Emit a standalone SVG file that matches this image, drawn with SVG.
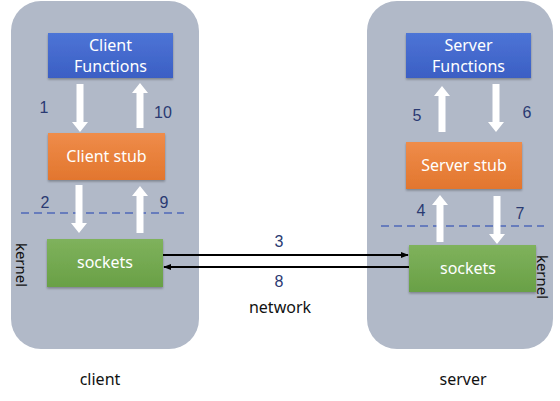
<svg xmlns="http://www.w3.org/2000/svg" width="560" height="401" viewBox="0 0 560 401">
<style>
.panel{fill:#b1b9c8}
.lbl{font-family:"Liberation Sans","Noto Sans",sans-serif;font-size:16px;fill:#2a3a72;text-anchor:middle}
.box{font-family:"Noto Sans","Liberation Sans",sans-serif;font-size:16px;fill:#ffffff;text-anchor:middle}
.cap{font-family:"Noto Sans","Liberation Sans",sans-serif;font-size:16px;fill:#111111;text-anchor:middle}
.kern{font-family:"Noto Sans","Liberation Sans",sans-serif;font-size:15px;fill:#111111;text-anchor:middle}
.warr{fill:#ffffff}
.dash{stroke:#4f68b8;stroke-width:1.3;stroke-dasharray:8,5;fill:none}
.net{stroke:#000000;stroke-width:2;fill:none}
</style>
<defs>
<linearGradient id="gb" x1="0" y1="0" x2="0" y2="1"><stop offset="0" stop-color="#4d74d6"/><stop offset="1" stop-color="#3b5fc4"/></linearGradient>
<linearGradient id="go" x1="0" y1="0" x2="0" y2="1"><stop offset="0" stop-color="#ef8c4a"/><stop offset="1" stop-color="#e2762e"/></linearGradient>
<linearGradient id="gg" x1="0" y1="0" x2="0" y2="1"><stop offset="0" stop-color="#7fb25c"/><stop offset="1" stop-color="#69a046"/></linearGradient>
<filter id="sh" x="-10%" y="-10%" width="120%" height="130%"><feDropShadow dx="0" dy="1.5" stdDeviation="1" flood-color="#000" flood-opacity="0.3"/></filter>
<marker id="ah" viewBox="0 0 10 10" refX="9" refY="5" markerWidth="8" markerHeight="8" orient="auto" markerUnits="userSpaceOnUse"><path d="M0,1 L10,5 L0,9 z" fill="#000"/></marker>
</defs>

<g id="client-panel">
<rect class="panel" x="11" y="1" width="188" height="348" rx="30"/>
<text class="cap" x="100" y="385">client</text>
<text class="kern" x="0" y="0" transform="translate(16,265) rotate(90)">kernel</text>
<line class="dash" x1="21" y1="213" x2="184" y2="213"/>
</g>

<g id="server-panel">
<rect class="panel" x="367" y="1" width="186" height="348" rx="30"/>
<text class="cap" x="463" y="385">server</text>
<text class="kern" x="0" y="0" transform="translate(537,277) rotate(90)">kernel</text>
<line class="dash" x1="381" y1="226" x2="544" y2="226"/>
</g>

<g id="client-functions">
<rect x="48" y="33" width="125" height="45" fill="url(#gb)" filter="url(#sh)"/>
<text class="box" x="110.5" y="51">Client</text>
<text class="box" x="110.5" y="72">Functions</text>
</g>

<g id="client-stub">
<rect x="48" y="133" width="117" height="47" fill="url(#go)" filter="url(#sh)"/>
<text class="box" x="106.5" y="162">Client stub</text>
</g>

<g id="client-sockets">
<rect x="47" y="239" width="116" height="48" fill="url(#gg)" filter="url(#sh)"/>
<text class="box" x="105" y="268">sockets</text>
</g>

<g id="server-functions">
<rect x="406" y="33" width="125" height="45" fill="url(#gb)" filter="url(#sh)"/>
<text class="box" x="468.5" y="51">Server</text>
<text class="box" x="468.5" y="72">Functions</text>
</g>

<g id="server-stub">
<rect x="406" y="142" width="116" height="47" fill="url(#go)" filter="url(#sh)"/>
<text class="box" x="464" y="171">Server stub</text>
</g>

<g id="server-sockets">
<rect x="409" y="245" width="127" height="47" fill="url(#gg)" filter="url(#sh)"/>
<text class="box" x="468" y="274">sockets</text>
</g>

<g id="connectors">
<polygon class="warr" points="76.5,84 83.5,84 83.5,122 88,122 80,132 72,122 76.5,122"/>
<polygon class="warr" points="136.5,128 143.5,128 143.5,93 148,93 140,83 132,93 136.5,93"/>
<polygon class="warr" points="75.5,185 82.5,185 82.5,223 87,223 79,233 71,223 75.5,223"/>
<polygon class="warr" points="136.5,233 143.5,233 143.5,196 148,196 140,186 132,196 136.5,196"/>
<polygon class="warr" points="438.5,132 445.5,132 445.5,96 450,96 442,86 434,96 438.5,96"/>
<polygon class="warr" points="492.5,84 499.5,84 499.5,122 504,122 496,132 488,122 492.5,122"/>
<polygon class="warr" points="436.5,242 443.5,242 443.5,205 448,205 440,195 432,205 436.5,205"/>
<polygon class="warr" points="493.5,196 500.5,196 500.5,234 505,234 497,244 489,234 493.5,234"/>
<line class="net" x1="163" y1="255" x2="408" y2="255" marker-end="url(#ah)"/>
<line class="net" x1="409" y1="267" x2="164" y2="267" marker-end="url(#ah)"/>
<text class="lbl" x="44" y="113">1</text>
<text class="lbl" x="163" y="118">10</text>
<text class="lbl" x="45" y="208">2</text>
<text class="lbl" x="164" y="208">9</text>
<text class="lbl" x="417" y="121">5</text>
<text class="lbl" x="527" y="118">6</text>
<text class="lbl" x="421" y="216">4</text>
<text class="lbl" x="520" y="219">7</text>
<text class="lbl" x="279" y="247">3</text>
<text class="lbl" x="279" y="287">8</text>
<text class="cap" x="280" y="313">network</text>
</g>
</svg>
